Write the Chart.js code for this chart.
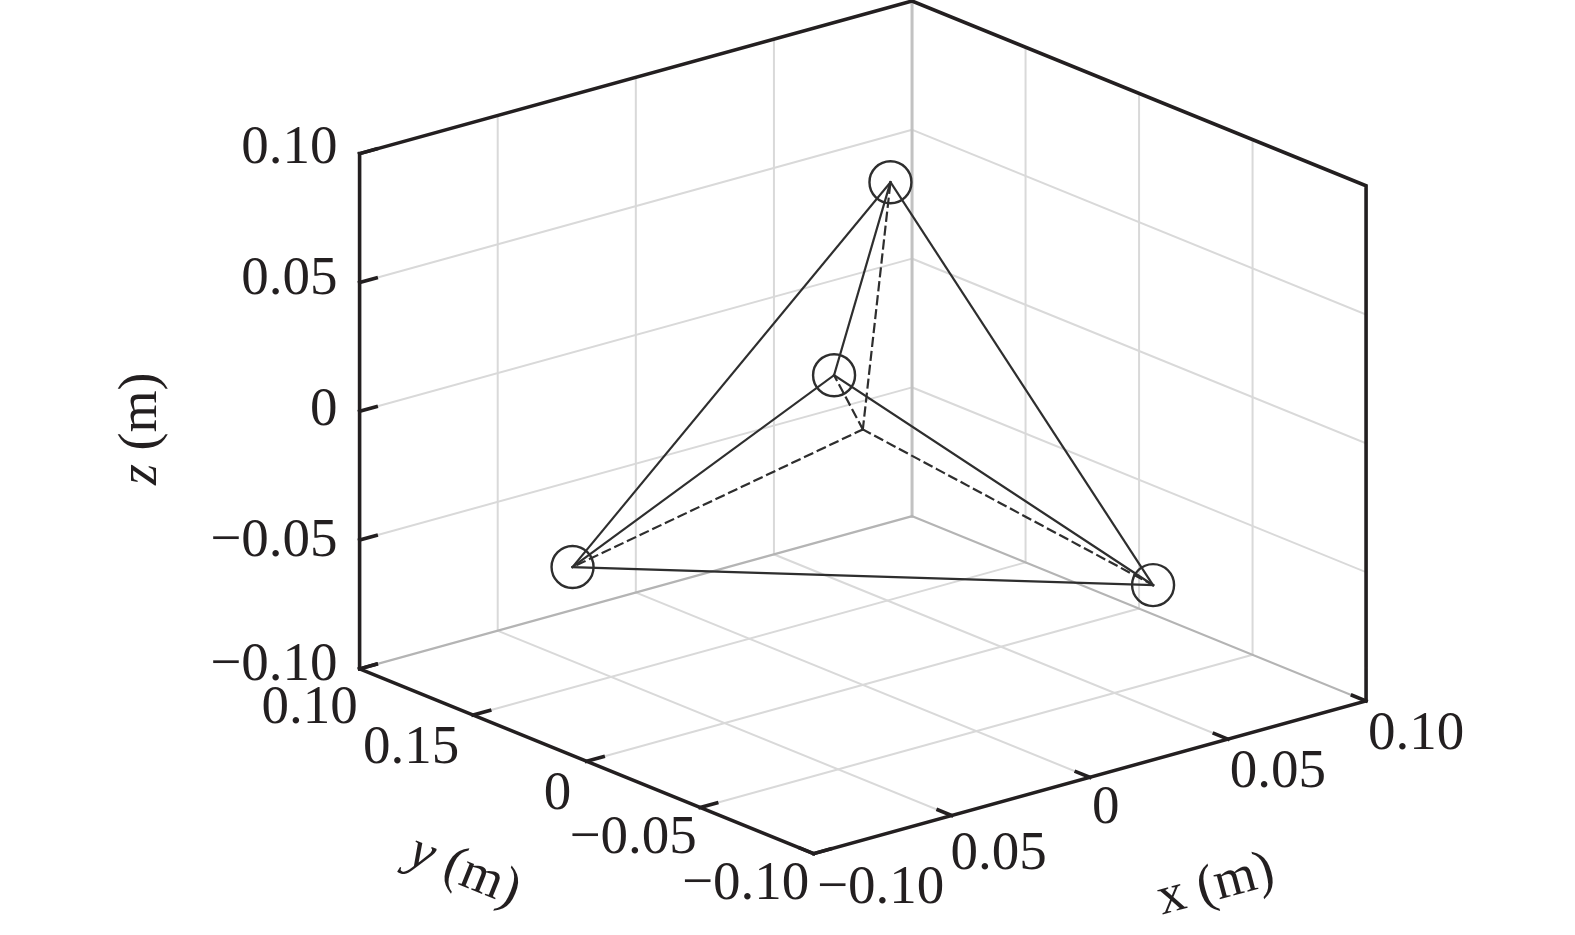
<!DOCTYPE html>
<html><head><meta charset="utf-8">
<style>html,body{margin:0;padding:0;background:#fff}canvas{display:block}</style>
<script src="https://cdn.jsdelivr.net/npm/chart.js@4"></script>
</head><body><canvas id="c" width="1575" height="935"></canvas>
<script>
// ---- data (metres) ----
const vertexNames = ['apex','front','left','right','origin'];
const vertexX = [0.010,-0.040,-0.040,0.0722,0];
const vertexY = [0.000,-0.036,0.0792,-0.040,0];
const vertexZ = [0.0922,0.0450,-0.0708,-0.0683,-0.0008];
const solidEdges = [['apex','left'],['apex','right'],['apex','front'],['front','left'],['front','right'],['left','right']];
const dashedEdges = [['origin','apex'],['origin','front'],['origin','left'],['origin','right']];
const gridValues = [-0.05,0,0.05];
const tickValues = [-0.10,-0.05,0,0.05,0.10];
const xTickLabels = ['\u22120.10','0.05','0','0.05','0.10'];
const yTickLabels = ['\u22120.10','\u22120.05','0','0.15','0.10'];
const zTickLabels = ['\u22120.10','\u22120.05','0','0.05','0.10'];

// ---- oblique view used to flatten the 3-D values on to the chart's plane ----
const view = {ox:859, oy:425.5, xx:2750, xy:-760, yx:-2260, yy:-920, zy:-2565};
function project(x,y,z){
  return {x:view.ox+view.xx*x+view.yx*y, y:view.oy+view.xy*x+view.yy*y+view.zy*z};
}
const L=0.10, T=0.006;
const datasets=[];
function line(pts,color,width,dash){
  datasets.push({data:pts.map(p=>project(p[0],p[1],p[2])),showLine:true,pointRadius:0,clip:false,
    borderColor:color,borderWidth:width,borderDash:dash||[],borderCapStyle:'square',borderJoinStyle:'miter',fill:false,order:-datasets.length});
}
const GRID='#d9d9d9', EDGE='#b4b4b4', AX='#231f20', INK='#2e2e2e';
gridValues.forEach(v=>{
  line([[v,L,-L],[v,L,L]],GRID,2);
  line([[L,v,-L],[L,v,L]],GRID,2);
  line([[-L,L,v],[L,L,v]],GRID,2);
  line([[L,-L,v],[L,L,v]],GRID,2);
  line([[v,-L,-L],[v,L,-L]],GRID,2);
  line([[-L,v,-L],[L,v,-L]],GRID,2);
});
line([[L,L,-L],[L,L,L]],'#c2c2c2',3);
line([[-L,L,-L],[L,L,-L]],EDGE,2.2);
line([[L,-L,-L],[L,L,-L]],EDGE,2.2);
const v3=n=>{const i=vertexNames.indexOf(n);return [vertexX[i],vertexY[i],vertexZ[i]];};
dashedEdges.forEach(e=>line([v3(e[0]),v3(e[1])],INK,2.2,[8,6]));
solidEdges.forEach(e=>line([v3(e[0]),v3(e[1])],INK,2.2));
// axes box
line([[-L,L,L],[L,L,L],[L,-L,L],[L,-L,-L],[-L,-L,-L],[-L,L,-L],[-L,L,L]],AX,3.6);
// tick marks
tickValues.forEach(v=>{
  line([[v,-L,-L],[v,-L+T,-L]],AX,3.6);
  line([[-L,v,-L],[-L+T,v,-L]],AX,3.6);
  line([[-L,L,v],[-L+T,L,v]],AX,3.6);
});
// vertex circles
datasets.push({data:vertexNames.slice(0,4).map(n=>{const p=v3(n);return project(p[0],p[1],p[2]);}),clip:false,
  showLine:false,pointRadius:21,pointHoverRadius:21,pointBorderWidth:2.4,pointBorderColor:INK,pointBackgroundColor:'transparent',order:-datasets.length});

const NUM='55px "Liberation Serif"';
const labelPlugin={id:'labels3d',afterDatasetsDraw(chart){
  const c=chart.ctx, sx=chart.scales.x, sy=chart.scales.y;
  const at=(x,y,z)=>{const p=project(x,y,z);return [sx.getPixelForValue(p.x),sy.getPixelForValue(p.y)];};
  c.save(); c.fillStyle=AX; c.font=NUM; c.textBaseline='alphabetic';
  const xOff=[[67,33],[47,38],[16,30],[50,32],[50,32]];
  const yOff=[[-68,29],[-67,30],[-29,32],[-62,32],[-50,38]];
  const zOff=[-7,-2,-4,-6,-9];
  c.textAlign='center';
  tickValues.forEach((v,i)=>{
    let a=at(v,-L,-L); c.fillText(xTickLabels[i],a[0]+xOff[i][0],a[1]+xOff[i][1]+16);
    a=at(-L,v,-L); c.fillText(yTickLabels[i],a[0]+yOff[i][0],a[1]+yOff[i][1]+16);
  });
  c.textAlign='right';
  tickValues.forEach((v,i)=>{
    const a=at(-L,L,v); c.fillText(zTickLabels[i],a[0]-22,a[1]+zOff[i]+18);
  });
  function title(parts,px,py,deg){
    c.save(); c.translate(sx.getPixelForValue(px),sy.getPixelForValue(py)); c.rotate(deg*Math.PI/180); c.textAlign='left';
    let w=0; parts.forEach(p=>{c.font=p[1]; w+=c.measureText(p[0]).width;});
    let x=-w/2; parts.forEach(p=>{c.font=p[1]; c.fillText(p[0],x,16); x+=c.measureText(p[0]).width;});
    c.restore();
  }
  const I='italic 54px "Liberation Serif"', R='54px "Liberation Serif"';
  title([['z',I],[' (m)',R]],139,427,-90);
  title([['y',I],[' (m)',R]],463,866,22);
  title([['x',R],[' (m)',R]],1210,880,-15);
  c.restore();
}};

new Chart(document.getElementById('c'),{
  type:'scatter',
  data:{datasets},
  plugins:[labelPlugin],
  options:{responsive:false,animation:false,devicePixelRatio:1,
    layout:{padding:0,autoPadding:false},
    plugins:{legend:{display:false},tooltip:{enabled:false}},
    events:[],
    scales:{
      x:{type:'linear',display:false,min:0,max:1568},
      y:{type:'linear',display:false,min:0,max:931,reverse:true}
    }}
});
</script></body></html>
